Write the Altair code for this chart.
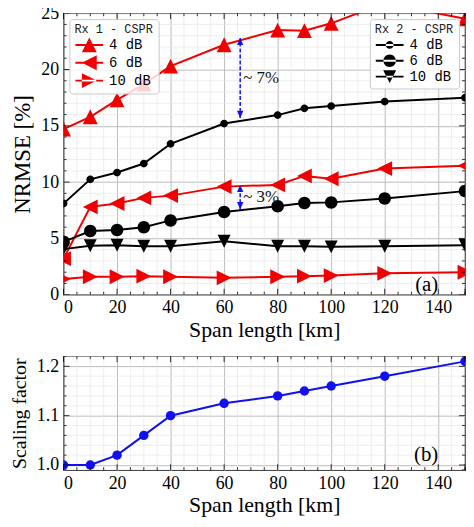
import altair as alt
import pandas as pd

# ---------------- data ----------------
span_km = [0, 10, 20, 30, 40, 60, 80, 90, 100, 120, 150]
cspr_levels = ["4 dB", "6 dB", "10 dB"]

rx1_4db = [14.7, 15.8, 17.3, 18.7, 20.3, 22.2, 23.5, 23.45, 24.1, 25.9, 24.5]
rx1_6db = [3.2, 7.8, 8.1, 8.6, 8.8, 9.6, 9.75, 10.55, 10.3, 11.2, 11.45]
rx1_10db = [1.4, 1.6, 1.6, 1.65, 1.6, 1.5, 1.6, 1.65, 1.7, 1.9, 2.0]

rx2_4db = [8.1, 10.25, 10.85, 11.65, 13.4, 15.2, 15.95, 16.55, 16.75, 17.15, 17.5]
rx2_6db = [4.7, 5.65, 5.75, 6.0, 6.6, 7.35, 7.85, 8.15, 8.2, 8.55, 9.2]
rx2_10db = [4.05, 4.35, 4.4, 4.3, 4.3, 4.75, 4.3, 4.3, 4.25, 4.3, 4.4]

scaling_factor = [1.0, 1.0, 1.02, 1.06, 1.10, 1.125, 1.14, 1.15, 1.16, 1.18, 1.21]

arrow_x = [66, 66]
arrow_lo = [15.7, 7.6]
arrow_hi = [22.8, 9.75]
arrow_label = ["~ 7%", "~ 3%"]
arrow_label_y = [19.2, 8.7]

x_major = [0, 20, 40, 60, 80, 100, 120, 140]
x_minor = [v for v in range(0, 151, 5) if v % 20 != 0]
y1_major = [0, 5, 10, 15, 20, 25]
y1_minor = [v for v in range(0, 26) if v % 5 != 0]
y2_major = [1.0, 1.1, 1.2]
y2_minor = [0.99, 1.02, 1.04, 1.06, 1.08, 1.12, 1.14, 1.16, 1.18, 1.22]

# ---------------- style ----------------
RED = "#f00000"
BLACK = "#000000"
BLUE = "#1010f0"
SERIF = "Liberation Serif"
MONO = "Liberation Mono"
W = 405
H1 = 284
H2 = 115

# marker paths: unit 1 = 7 px at size 196
STUB = " M-2.0,-0.14H2.0V0.14H-2.0Z"


def circle_path(r):
    return f"M-{r},0A{r},{r} 0 1,0 {r},0A{r},{r} 0 1,0 -{r},0Z"


red_shapes = [
    "M0,-1.07L1.07,1.07L-1.07,1.07Z",
    "M-1.07,0L1.07,-1.07L1.07,1.07Z",
    "M1.07,0L-1.07,-1.07L-1.07,1.07Z",
]
black_shapes = [
    circle_path(0.56),
    circle_path(0.9),
    "M0,0.93L0.93,-0.93L-0.93,-0.93Z",
]


def long_df(values_list):
    rows = []
    for lab, vals in zip(cspr_levels, values_list):
        for s, v in zip(span_km, vals):
            rows.append({"span": s, "val": v, "cspr": lab})
    return pd.DataFrame(rows)


df_rx1 = long_df([rx1_4db, rx1_6db, rx1_10db])
df_rx2 = long_df([rx2_4db, rx2_6db, rx2_10db])
df_levels = pd.DataFrame({"cspr": cspr_levels})
df_scale = pd.DataFrame({"span": span_km, "sf": scaling_factor})
df_arrow = pd.DataFrame({"x": arrow_x, "lo": arrow_lo, "hi": arrow_hi,
                         "lab": arrow_label, "ly": arrow_label_y})

xs = alt.Scale(domain=[0, 150], nice=False, zero=False)
ys1 = alt.Scale(domain=[0, 25], nice=False, zero=False)
ys2 = alt.Scale(domain=[0.9895, 1.2205], nice=False, zero=False)

x_axis = alt.Axis(values=x_major, title="Span length [km]", labelFontSize=18,
                  titleFontSize=22, labelPadding=4, titlePadding=3)
y1_axis = alt.Axis(values=y1_major, title="NRMSE [%]", labelFontSize=18,
                   titleFontSize=23, labelPadding=5, titlePadding=6)
y2_axis = alt.Axis(values=y2_major, format=".1f", title="Scaling factor",
                   labelFontSize=18, titleFontSize=20, labelPadding=5, titlePadding=7)


def X(field):
    return alt.X(field, scale=xs, axis=x_axis)


def minor_grid(y_minor_vals, yscale, yaxis):
    return [
        alt.Chart(pd.DataFrame({"v": x_minor})).mark_rule(
            color="#e6e6e6", strokeWidth=0.7).encode(x=X("v:Q")),
        alt.Chart(pd.DataFrame({"v": y_minor_vals})).mark_rule(
            color="#e6e6e6", strokeWidth=0.7).encode(
            y=alt.Y("v:Q", scale=yscale, axis=yaxis)),
    ]


def inner_ticks(y_major_vals, y_minor_vals, yscale, yaxis, H):
    layers = []
    for vals, ln in ((x_major + [150], 6), (x_minor, 3)):
        d = pd.DataFrame({"v": vals})
        layers.append(alt.Chart(d).mark_rule(color="black", strokeWidth=0.8).encode(
            x=X("v:Q"), y=alt.value(H), y2=alt.value(H - ln)))
        layers.append(alt.Chart(d).mark_rule(color="black", strokeWidth=0.8).encode(
            x=X("v:Q"), y=alt.value(0), y2=alt.value(ln)))
    for vals, ln in ((y_major_vals, 6), (y_minor_vals, 3)):
        d = pd.DataFrame({"v": vals})
        layers.append(alt.Chart(d).mark_rule(color="black", strokeWidth=0.8, clip=True).encode(
            y=alt.Y("v:Q", scale=yscale, axis=yaxis), x=alt.value(0), x2=alt.value(ln)))
        layers.append(alt.Chart(d).mark_rule(color="black", strokeWidth=0.8, clip=True).encode(
            y=alt.Y("v:Q", scale=yscale, axis=yaxis), x=alt.value(W), x2=alt.value(W - ln)))
    return layers


def legend(title, orient, col):
    return alt.Legend(title=title, orient=orient, offset=6,
                      titleFont=MONO, titleFontSize=12, titleFontWeight="normal",
                      titleColor="#222222", titlePadding=2,
                      labelFont=MONO, labelFontSize=14, labelColor="black",
                      symbolSize=196, symbolOpacity=1, symbolStrokeWidth=0,
                      symbolFillColor=col,
                      fillColor="rgba(255,255,255,0.82)", strokeColor="#c8c8c8",
                      cornerRadius=3, padding=5, rowPadding=2,
                      symbolOffset=8, labelOffset=13)


def legend_layer(shapes, title, orient, col):
    # invisible marks whose only purpose is the legend (marker + line stub)
    return alt.Chart(df_levels).mark_point(filled=True, opacity=0, color=col, size=196).encode(
        shape=alt.Shape("cspr:N",
                        scale=alt.Scale(domain=cspr_levels, range=[s + STUB for s in shapes]),
                        legend=legend(title, orient, col)))


# ---------------- top panel ----------------
Y1 = alt.Y("val:Q", scale=ys1, axis=y1_axis)
red_line = alt.Chart(df_rx1).mark_line(color=RED, strokeWidth=2, clip=True).encode(
    x=X("span:Q"), y=Y1, detail="cspr:N")
red_pts = alt.Chart(df_rx1).mark_point(filled=True, opacity=1, color=RED,
                                       size=196, clip=True).encode(
    x=X("span:Q"), y=Y1,
    shape=alt.Shape("cspr:N", scale=alt.Scale(domain=cspr_levels, range=red_shapes),
                    legend=None))
black_line = alt.Chart(df_rx2).mark_line(color=BLACK, strokeWidth=2, clip=True).encode(
    x=X("span:Q"), y=Y1, detail="cspr:N")
black_pts = alt.Chart(df_rx2).mark_point(filled=True, opacity=1, color=BLACK,
                                         size=196, clip=True).encode(
    x=X("span:Q"), y=Y1,
    shape=alt.Shape("cspr:N", scale=alt.Scale(domain=cspr_levels, range=black_shapes),
                    legend=None))

arrow_rule = alt.Chart(df_arrow).mark_rule(color=BLUE, strokeWidth=1.5, strokeDash=[4, 2]).encode(
    x=X("x:Q"), y=alt.Y("lo:Q", scale=ys1, axis=y1_axis), y2="hi:Q")
head_up = alt.Chart(df_arrow).mark_point(filled=True, opacity=1, color=BLUE, size=16,
                                         shape="M0,0L1.6,3.6L-1.6,3.6Z").encode(
    x=X("x:Q"), y=alt.Y("hi:Q", scale=ys1, axis=y1_axis))
head_dn = alt.Chart(df_arrow).mark_point(filled=True, opacity=1, color=BLUE, size=16,
                                         shape="M0,0L1.6,-3.6L-1.6,-3.6Z").encode(
    x=X("x:Q"), y=alt.Y("lo:Q", scale=ys1, axis=y1_axis))
arrow_txt = alt.Chart(df_arrow).mark_text(align="left", baseline="middle", dx=3,
                                          font=SERIF, fontSize=17, color="#111111").encode(
    x=X("x:Q"), y=alt.Y("ly:Q", scale=ys1, axis=y1_axis), text="lab:N")
label_a = alt.Chart(pd.DataFrame({"t": ["(a)"]})).mark_text(
    align="right", baseline="middle", font=SERIF, fontSize=21, color="black").encode(
    x=alt.value(W - 27), y=alt.value(H1 - 10), text="t:N")

top = alt.layer(
    *minor_grid(y1_minor, ys1, y1_axis),
    red_line, black_line, red_pts, black_pts,
    arrow_rule, head_up, head_dn, arrow_txt, label_a,
    *inner_ticks(y1_major, y1_minor, ys1, y1_axis, H1),
    legend_layer(red_shapes, "Rx 1 - CSPR", "top-left", RED),
    legend_layer(black_shapes, "Rx 2 - CSPR", "top-right", BLACK),
).resolve_scale(shape="independent").properties(width=W, height=H1)

# ---------------- bottom panel ----------------
Y2 = alt.Y("sf:Q", scale=ys2, axis=y2_axis)
sf_line = alt.Chart(df_scale).mark_line(color=BLUE, strokeWidth=2, clip=True).encode(
    x=X("span:Q"), y=Y2)
sf_pts = alt.Chart(df_scale).mark_point(filled=True, opacity=1, color=BLUE, size=90,
                                        clip=True).encode(x=X("span:Q"), y=Y2)
label_b = alt.Chart(pd.DataFrame({"t": ["(b)"]})).mark_text(
    align="right", baseline="middle", font=SERIF, fontSize=21, color="black").encode(
    x=alt.value(W - 27), y=alt.value(H2 - 15), text="t:N")

bottom = alt.layer(
    *minor_grid(y2_minor, ys2, y2_axis),
    sf_line, sf_pts, label_b,
    *inner_ticks(y2_major, y2_minor, ys2, y2_axis, H2),
).properties(width=W, height=H2)

chart = alt.vconcat(top, bottom, spacing=14).properties(
    padding={"left": 0, "top": -7, "right": 0, "bottom": 0}
).configure_view(stroke="black", strokeWidth=1.2).configure_axis(
    ticks=False, domain=False, grid=True, gridColor="#b4b4b4", gridWidth=0.9,
    labelFont=SERIF, titleFont=SERIF, labelColor="black", titleColor="black",
    titleFontWeight="normal"
)

chart.save("out.html", embed_options={"renderer": "svg", "actions": False})
